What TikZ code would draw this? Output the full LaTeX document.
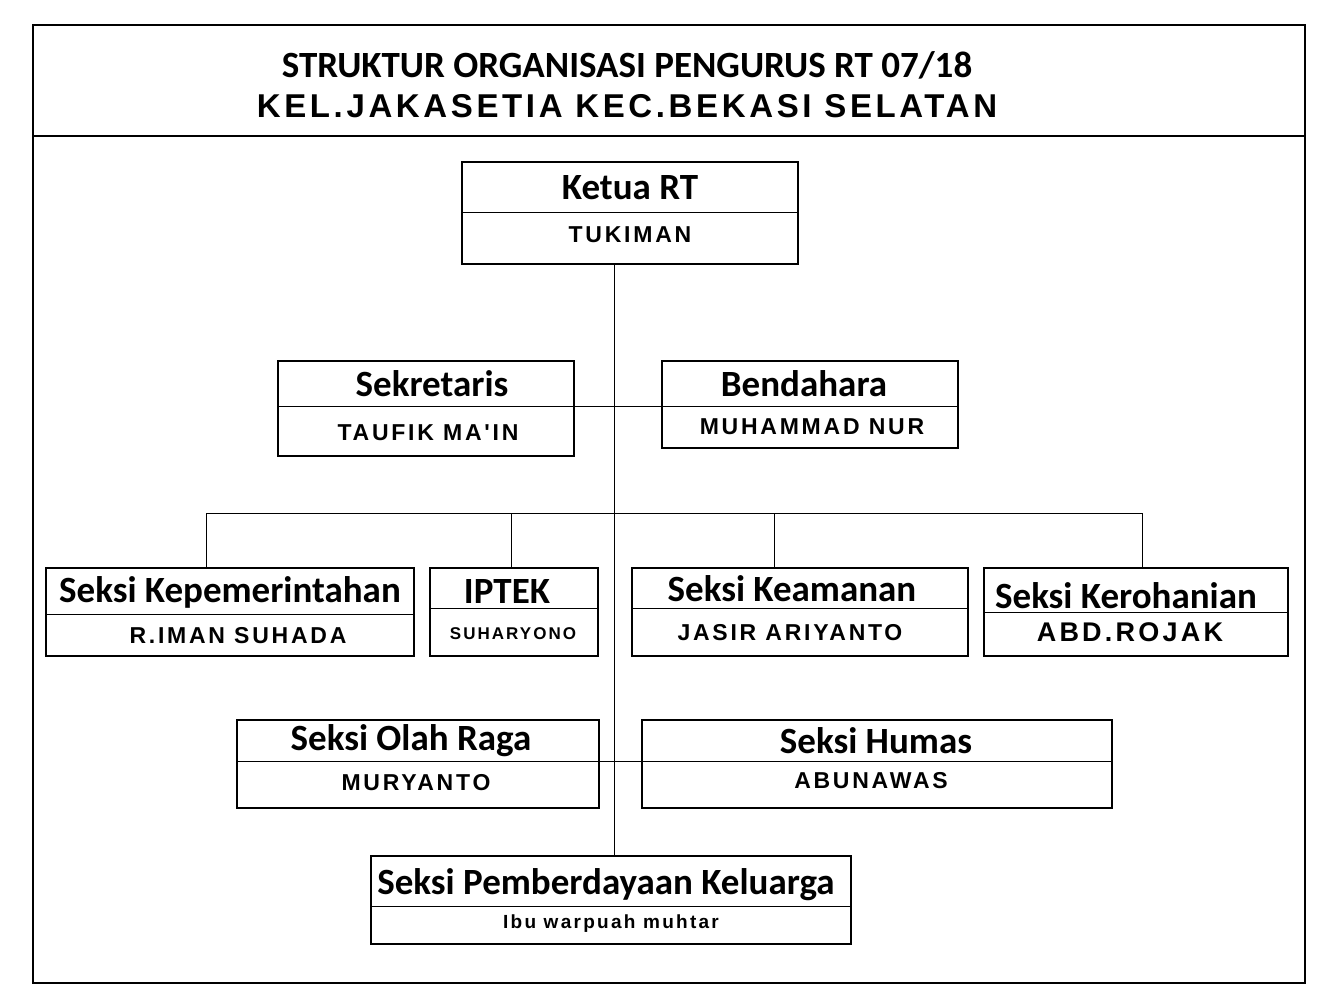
\documentclass[tikz,border=0pt]{standalone}
\usepackage{fontspec}
\setmainfont{Carlito}
\newfontfamily\arialf[LetterSpace=12]{Liberation Sans}
\newfontfamily\arialt[LetterSpace=11]{Liberation Sans}
\begin{document}
\begin{tikzpicture}[x=1pt,y=-1pt,line width=1.6pt,
  ttl/.style={font=\bfseries\fontsize{37}{40}\selectfont,anchor=center,inner sep=0},
  nm/.style={font=\arialf\bfseries\fontsize{23}{26}\selectfont,anchor=center,inner sep=0},
  thin/.style={line width=0.8pt}]
\useasboundingbox (0,0) rectangle (1344,1008);
\fill[white] (0,0) rectangle (1344,1008);
\draw (33,25) rectangle (1305,983);
\draw (33,136) -- (1305,136);
\node[font=\bfseries\fontsize{37}{40}\selectfont] (t1) at (627,65) {STRUKTUR ORGANISASI PENGURUS RT 07/18};
\node[font=\arialt\bfseries\fontsize{33}{36}\selectfont] (t2) at (627,106) {KEL.JAKASETIA KEC.BEKASI SELATAN};
\newcommand\obox[7]{%
  \draw (#2,#3) rectangle (#4,#5);
  \coordinate (#1) at ({(#2+#4)/2},#3);
  \coordinate (#1b) at ({(#2+#4)/2},#5);
  \draw[thin] (#2,#6) -- (#4,#6);}
\obox{ket}{462}{162}{798}{264}{212}{}
\node[ttl] (kt) at (630,188) {Ketua RT};
\node[nm] (kn) at (630,235) {TUKIMAN};
\obox{sek}{278}{361}{574}{456}{406}{}
\node[ttl] (st) at (432,384) {Sekretaris};
\node[nm] (sn) at (428,433) {TAUFIK MA'IN};
\obox{ben}{662}{361}{958}{448}{406}{}
\node[ttl] (bt) at (804,384) {Bendahara};
\node[nm] (bn) at (812,427) {MUHAMMAD NUR};
\draw[thin] (574,406) -- (662,406);
\obox{kep}{46}{568}{414}{656}{614}{}
\node[ttl] (kpt) at (230,592) {Seksi Kepemerintahan};
\node[nm] (kpn) at (238,636) {R.IMAN SUHADA};
\obox{ipt}{430}{568}{598}{656}{608}{}
\node[ttl] (it) at (507,592) {IPTEK};
\node[nm,font=\arialf\bfseries\fontsize{17}{20}\selectfont] (in) at (513,634) {SUHARYONO};
\obox{kea}{632}{568}{968}{656}{608}{}
\node[ttl] (kat) at (792,589) {Seksi Keamanan};
\node[nm] (kan) at (790,633) {JASIR ARIYANTO};
\obox{ker}{984}{568}{1288}{656}{612}{}
\node[ttl] (krt) at (1126,596) {Seksi Kerohanian};
\node[nm,font=\arialf\bfseries\fontsize{27}{30}\selectfont] (krn) at (1130,632) {ABD.ROJAK};
\obox{ola}{237}{720}{599}{808}{761}{}
\node[ttl] (ot) at (411,741) {Seksi Olah Raga};
\node[nm] (on) at (416,783) {MURYANTO};
\obox{hum}{642}{720}{1112}{808}{761}{}
\node[ttl] (ht) at (876,741) {Seksi Humas};
\node[nm] (hn) at (871,781) {ABUNAWAS};
\draw[thin] (599,761) -- (642,761);
\obox{pem}{371}{856}{851}{944}{906}{}
\node[ttl] (pt) at (606,885) {Seksi Pemberdayaan Keluarga};
\node[nm,font=\arialf\bfseries\fontsize{19}{22}\selectfont] (pn) at (611,924) {Ibu warpuah muhtar};
\coordinate (trunk) at (614,264);
\coordinate (trunkend) at (614,856);
\draw[thin] (trunk) -- (trunkend);
\draw[thin] (206,513) -- (1142,513);
\foreach \x in {206,511,774,1142} \draw[thin] (\x,513) -- (\x,568);
\end{tikzpicture}
\end{document}
